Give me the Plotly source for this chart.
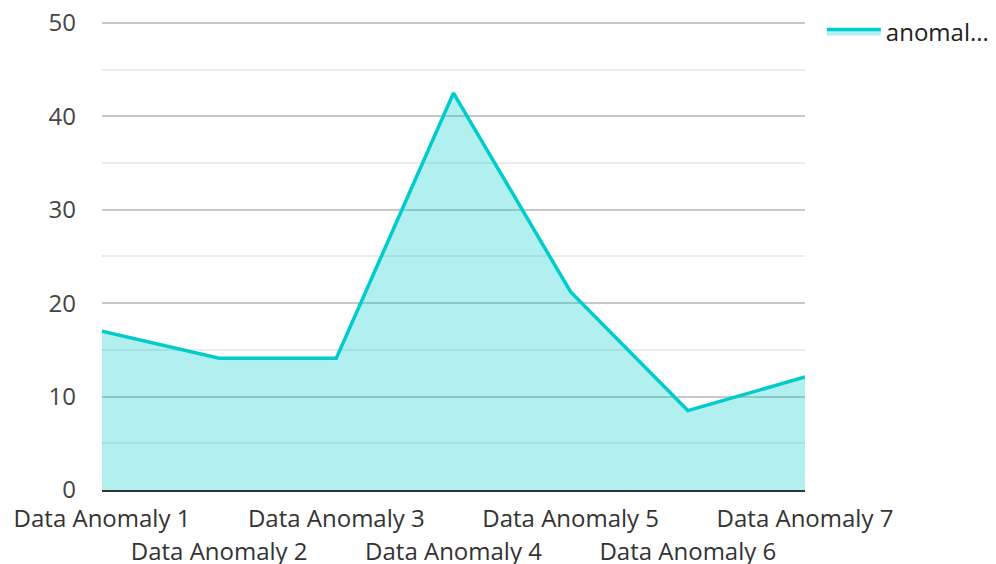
import plotly.graph_objects as go

categories = ["Data Anomaly 1", "Data Anomaly 2", "Data Anomaly 3", "Data Anomaly 4",
              "Data Anomaly 5", "Data Anomaly 6", "Data Anomaly 7"]
values = [17, 14.1, 14.1, 42.5, 21.2, 8.5, 12.1]
series_name = "anomal..."
y_ticks = [0, 10, 20, 30, 40, 50]

idx = list(range(len(categories)))

fig = go.Figure()
fig.add_trace(go.Scatter(
    x=idx, y=values, mode="lines", name=series_name,
    line=dict(color="#00cccc", width=3.5),
    fill="tozeroy", fillcolor="rgba(0,204,204,0.30)",
))

font = "Open Sans"
FS = 24
# page body has an 8px default margin; figure sized/offset to compensate
fig.update_layout(
    width=988, height=556,
    margin=dict(l=94, r=191, t=13, b=74, autoexpand=False),
    plot_bgcolor="white", paper_bgcolor="white",
    font=dict(family=font, size=FS, color="#333"),
    showlegend=True,
    legend=dict(x=1.024, y=1.025, xanchor="left", yanchor="top",
                font=dict(family=font, size=FS, color="#222"),
                itemwidth=54, bgcolor="rgba(0,0,0,0)"),
    xaxis=dict(
        range=[0, len(categories) - 1], tickmode="array",
        tickvals=idx[0::2], ticktext=categories[0::2],
        tickangle=0, showgrid=False, zeroline=False, automargin=False,
        showline=True, linecolor="#333", linewidth=2,
        ticks="", ticklabelstandoff=6, ticklabeloverflow="allow",
        tickfont=dict(family=font, size=FS, color="#333"),
    ),
    xaxis2=dict(
        overlaying="x", side="bottom", anchor="y", automargin=False,
        range=[0, len(categories) - 1], tickmode="array",
        tickvals=idx[1::2], ticktext=categories[1::2],
        tickangle=0, showgrid=False, zeroline=False, showline=False,
        ticks="", ticklabelstandoff=45, ticklabeloverflow="allow",
        tickfont=dict(family=font, size=FS, color="#333"),
    ),
    yaxis=dict(
        range=[0, 50.21], tickmode="array", tickvals=y_ticks, automargin=False,
        showgrid=True, gridcolor="#c8c8c8", gridwidth=1.5,
        minor=dict(dtick=5, showgrid=True, gridcolor="#ebebeb", gridwidth=1.5),
        zeroline=False, showline=False, ticks="", ticklabelstandoff=25,
        ticklabeloverflow="allow",
        tickfont=dict(family=font, size=FS, color="#444"),
    ),
)
# invisible trace to activate the second row of category labels
fig.add_trace(go.Scatter(x=[0], y=[0], xaxis="x2", mode="markers",
                         marker=dict(opacity=0), showlegend=False, hoverinfo="skip"))

fig.write_html("out.html")
